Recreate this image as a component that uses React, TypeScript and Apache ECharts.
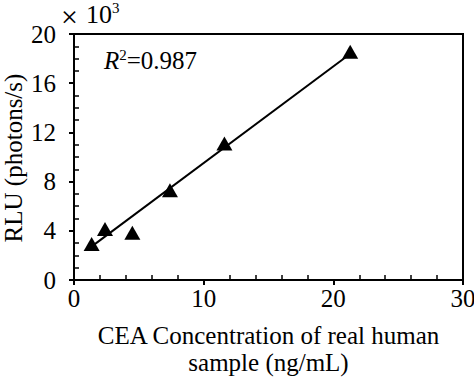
import React, { useEffect, useRef } from "react";
import * as echarts from "echarts";

const concentrations = [1.36, 2.39, 4.5, 7.4, 11.6, 21.3];
const rlu = [2.93, 4.15, 3.85, 7.3, 11.1, 18.55];
const fitLine = [
  [1.4, 2.75],
  [21.0, 18.15],
];
const xTicks = { min: 0, max: 30, interval: 10 };
const yTicks = { min: 0, max: 20, interval: 4 };
const FONT = "Liberation Serif";

export default function App() {
  const ref = useRef<HTMLDivElement>(null);
  useEffect(() => {
    if (!ref.current) return;
    const chart = echarts.init(ref.current, undefined, { renderer: "svg" });
    const axisCommon = {
      axisLine: { show: true, lineStyle: { color: "#000", width: 2 } },
      axisTick: { show: true, inside: false, length: 5, lineStyle: { color: "#000", width: 2 } },
      minorTick: { show: true, length: -5, lineStyle: { color: "#000", width: 1.5 } },
      splitLine: { show: false },
    };
    chart.setOption({
      animation: false,
      grid: {
        left: 74,
        right: 11,
        top: 34,
        bottom: 102,
        show: true,
        borderColor: "#000",
        borderWidth: 2,
        outerBoundsMode: "none",
        containLabel: false,
      },
      xAxis: {
        type: "value",
        ...xTicks,
        ...axisCommon,
        minorTick: { ...axisCommon.minorTick, splitNumber: 5 },
        axisLabel: { fontFamily: FONT, fontSize: 25, color: "#000", margin: 6 },
        name: "CEA Concentration of real human\nsample (ng/mL)",
        nameLocation: "middle",
        nameGap: 42,
        nameTextStyle: { fontFamily: FONT, fontSize: 25, color: "#000", lineHeight: 27 },
      },
      yAxis: {
        type: "value",
        ...yTicks,
        ...axisCommon,
        minorTick: { ...axisCommon.minorTick, splitNumber: 4 },
        axisLabel: { fontFamily: FONT, fontSize: 25, color: "#000", margin: 18 },
      },
      graphic: [
        {
          type: "text",
          x: 13,
          y: 158,
          rotation: Math.PI / 2,
          style: {
            text: "RLU (photons/s)",
            fontFamily: FONT,
            fontSize: 25,
            lineHeight: 24,
            fill: "#000",
            align: "center",
            verticalAlign: "middle",
          },
        },
        {
          type: "text",
          left: 61,
          top: 1,
          style: { text: "×", fontFamily: FONT, fontSize: 30, fill: "#000" },
        },
        {
          type: "text",
          left: 86,
          top: 1,
          style: { text: "10", fontFamily: FONT, fontSize: 26, fill: "#000" },
        },
        {
          type: "text",
          left: 112,
          top: 0,
          style: { text: "3", fontFamily: FONT, fontSize: 15, fill: "#000" },
        },
        {
          type: "text",
          left: 104,
          top: 47,
          style: {
            text: "{r|R}{s|2}{t|=0.987}",
            rich: {
              r: { fontFamily: FONT, fontSize: 25, fontStyle: "italic", fill: "#000" },
              s: { fontFamily: FONT, fontSize: 15, fill: "#000", padding: [0, 0, 12, 0] },
              t: { fontFamily: FONT, fontSize: 25, fill: "#000" },
            },
          },
        },
      ],
      series: [
        {
          type: "line",
          data: fitLine,
          showSymbol: false,
          symbol: "none",
          lineStyle: { color: "#000", width: 2 },
          z: 2,
        },
        {
          type: "scatter",
          data: concentrations.map((x, i) => [x, rlu[i]]),
          symbol: "triangle",
          symbolSize: [16, 14],
          itemStyle: { color: "#000", opacity: 1 },
          z: 3,
        },
      ],
    });
    return () => chart.dispose();
  }, []);
  return <div ref={ref} style={{ width: 474, height: 382, position: "absolute", left: 0, top: 0 }} />;
}
